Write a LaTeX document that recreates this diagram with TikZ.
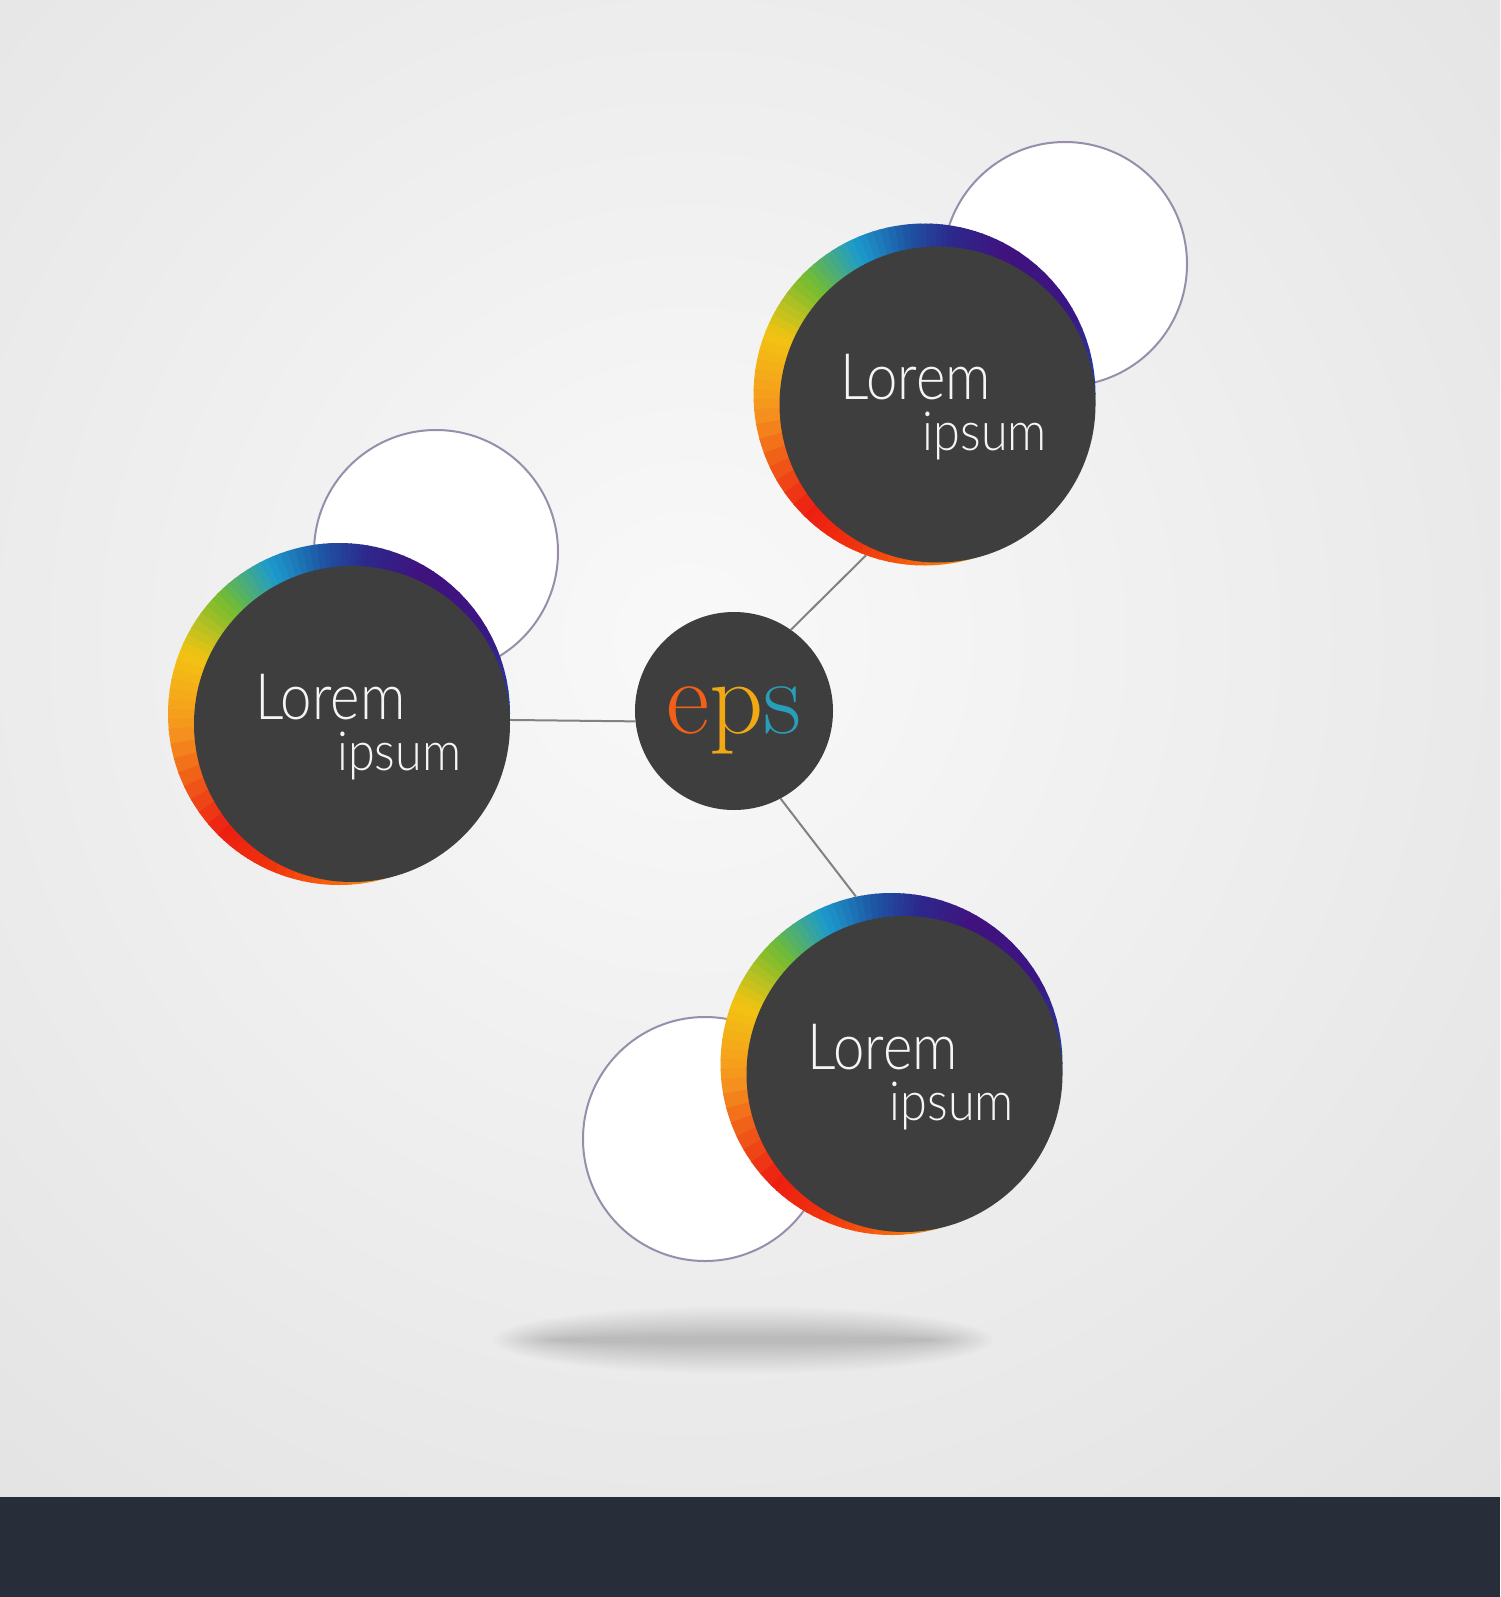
\documentclass[tikz,border=0pt]{standalone}
\usepackage{fontspec}
\newfontfamily\loremfont{Lato Light}
\usetikzlibrary{calc}

\def\ringradius{171}
\def\discradius{158}
\def\holeradius{122}
\def\epsradius{99}
\def\wedges{8}

\definecolor{discgray}{RGB}{62,62,62}
\definecolor{holeline}{RGB}{152,142,172}
\definecolor{wire}{RGB}{130,130,130}
\definecolor{barblue}{RGB}{40,46,57}
\definecolor{bglight}{RGB}{249,249,249}
\definecolor{bgdark}{RGB}{210,210,210}
% rainbow stops
\definecolor{rb0}{RGB}{240,200,30}
\definecolor{rb1}{RGB}{140,190,50}
\definecolor{rb2}{RGB}{40,150,190}
\definecolor{rb3}{RGB}{35,70,160}
\definecolor{rb4}{RGB}{58,22,130}
\definecolor{rb5}{RGB}{64,18,126}
\definecolor{rb6}{RGB}{45,40,140}
\definecolor{rb7}{RGB}{30,82,162}
\definecolor{rb8}{RGB}{28,155,205}
\definecolor{rb9}{RGB}{115,188,50}
\definecolor{rb10}{RGB}{242,196,18}
\definecolor{rb11}{RGB}{245,150,30}
\definecolor{rb12}{RGB}{236,30,18}
\definecolor{rb13}{RGB}{240,50,14}
\definecolor{rb14}{RGB}{246,105,14}
\definecolor{epsE}{RGB}{242,96,24}
\definecolor{epsP}{RGB}{240,168,20}
\definecolor{epsS}{RGB}{40,158,184}

\begin{document}
\begin{tikzpicture}[x=1pt, y=1pt,
                    ring/.style={circle, minimum size=2*\ringradius, inner sep=0pt},
                    disc/.style={circle, fill=discgray, minimum size=2*\discradius, inner sep=0pt},
                    hole/.style={circle, draw=holeline, line width=2pt, fill=white, minimum size=2*\holeradius, inner sep=0pt},
                    link/.style={draw=wire, line width=2pt},
                    label text/.style={anchor=base west, inner sep=0pt, text=white!96!black},
                    lorem/.style={label text, xscale=0.88, text depth=0pt, font=\loremfont\fontsize{64}{64}\selectfont},
                    ipsum/.style={label text, xscale=0.9, text height=0.62em, font=\loremfont\fontsize{54}{54}\selectfont}]
    \useasboundingbox (0,0) rectangle (1500,-1597);
    \begin{scope}
      \clip (0,0) rectangle (1500,-1497);
      \shade[inner color=bglight, outer color=bgdark] (690,-640) circle[radius=2000];
    \end{scope}
    \fill[barblue] (0,-1497) rectangle (1500,-1597);
    % shadow under the group
    \foreach \k in {0,...,15}{%
      \fill[black, opacity=0.012] (743,-1340) ellipse[x radius=250-4*\k, y radius=34-2*\k];}
    %
    \node[hole] (tr-hole) at (1065,-264) {};
    \node[hole] (lt-hole) at (436,-552) {};
    \node[hole] (bt-hole) at (705,-1139) {};
    \node[ring] (tr) at (924.5,-394.5) {};
    \node[ring] (lt) at (339,-714) {};
    \node[ring] (bt) at (891.5,-1064) {};
    \foreach \ring in {tr,lt,bt}{%
      \foreach \stopangle/\stopcol [remember=\stopangle as \lastangle (initially -60),
                                    remember=\stopcol as \lastcol (initially rb0)]
               in {-40/rb1,-20/rb2,0/rb3,30/rb4,60/rb5,80/rb6,95/rb7,115/rb8,135/rb9,
                   158/rb10,185/rb11,225/rb12,245/rb13,270/rb14,300/rb0}{%
        \foreach \k in {1,...,\wedges}{%
          \pgfmathsetmacro\wa{\lastangle+(\stopangle-\lastangle)*(\k-1)/\wedges}
          \pgfmathsetmacro\wb{\lastangle+(\stopangle-\lastangle)*\k/\wedges+0.5}
          \pgfmathtruncatemacro\mix{100*(\k-0.5)/\wedges}
          \fill[\stopcol!\mix!\lastcol] (\ring.center) -- ++(\wa:\ringradius)
               arc[start angle=\wa, end angle=\wb, radius=\ringradius] -- cycle;}}}
    %
    \foreach \ring in {tr,lt,bt}{%
      \node[disc] (\ring-disc) at ($(\ring.center)+(13,-10)$) {};
      \node[lorem] (\ring-lorem) at ($(\ring-disc)+(-97,5)$) {Lorem};
      \node[ipsum] (\ring-ipsum) at ($(\ring-disc)+(-15,-46)$) {ipsum};}
    %
    \node[circle, fill=discgray, minimum size=2*\epsradius, inner sep=0pt] (eps) at (734,-711) {};
    \node[anchor=base, inner sep=0pt, font=\fontsize{106}{106}\selectfont] (eps-text) at ($(eps)+(0,-22)$)
        {\textcolor{epsE}{e}\textcolor{epsP}{p}\textcolor{epsS}{s}};
    \draw[link] (eps.186) -- (lt.-2);
    \draw[link] (eps.55) -- (tr.250);
    \draw[link] (eps.-62) -- (bt.102);
\end{tikzpicture}
\end{document}
